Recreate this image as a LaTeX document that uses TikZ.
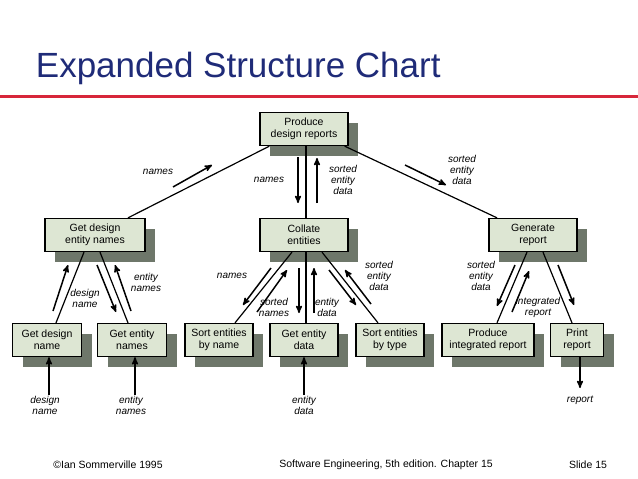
\documentclass[tikz,border=0pt]{standalone}
\usepackage{fontspec}
\setmainfont{Liberation Sans}
\usetikzlibrary{arrows,shadows,positioning}
\definecolor{boxfill}{HTML}{DDE6D3}
\definecolor{shade}{HTML}{6E776A}
\definecolor{titleblue}{HTML}{1F2B78}
\definecolor{rule}{HTML}{D7263A}

\begin{document}
\begin{tikzpicture}[x=1pt, y=-1pt, >=stealth', line width=1.2pt,
    module/.style={draw, line width=1.3pt, fill=boxfill, minimum width=#1, minimum height=33pt, inner sep=1pt,
      align=center, font=\fontsize{10.5}{12}\selectfont,
      drop shadow={shadow xshift=10pt, shadow yshift=-10pt, fill=shade, opacity=1}},
    flow/.style={->, line width=1.5pt},
    lbl/.style={font=\fontsize{10}{11}\selectfont\itshape, align=center, inner sep=0pt}]

  \useasboundingbox (0,0) rectangle (638,479);

  % title
  \node[anchor=west, text=titleblue, font=\fontsize{35}{37}\selectfont] (title) at (32,68) {Expanded Structure Chart};
  \draw[rule, line width=3pt] (0,96) -- (638,96);

  % modules
  \node[module=88pt]  (prod)    at (304,129) {Produce\\design reports};
  \node[module=100pt] (getdes)  at (95,235)  {Get design\\entity names};
  \node[module=88pt]  (collate) at (304,235) {Collate\\entities};
  \node[module=88pt]  (gen)     at (533,235) {Generate\\report};
  \node[module=69pt]  (gdname)  at (47,340)  {Get design\\name};
  \node[module=69pt]  (gename)  at (132,340) {Get entity\\names};
  \node[module=68pt]  (sname)   at (219,340) {Sort entities\\by name};
  \node[module=68pt]  (gedata)  at (304,340) {Get entity\\data};
  \node[module=68pt]  (stype)   at (390,340) {Sort entities\\by type};
  \node[module=92pt]  (pint)    at (488,340) {Produce\\integrated report};
  \node[module=53pt]  (print)   at (577,340) {Print\\report};

  % calls
  \draw ([xshift=10pt]prod.south west) -- ([xshift=33pt]getdes.north);
  \draw ([xshift=2pt]prod.south) -- ([xshift=2pt]collate.north);
  \draw ([xshift=-4pt]prod.south east) -- ([xshift=-36pt]gen.north);
  \draw ([xshift=-11pt]getdes.south) -- ([xshift=9pt]gdname.north);
  \draw ([xshift=5pt]getdes.south) -- ([xshift=-4pt]gename.north);
  \draw ([xshift=-12pt]collate.south) -- ([xshift=16pt]sname.north);
  \draw ([xshift=2pt]collate.south) -- ([xshift=2pt]gedata.north);
  \draw ([xshift=18pt]collate.south) -- ([xshift=-12pt]stype.north);
  \draw ([xshift=-6pt]gen.south) -- ([xshift=9pt]pint.north);
  \draw ([xshift=10pt]gen.south) -- ([xshift=-5pt]print.north);

  % data couples
  \coordinate (a1) at (173,187); \coordinate (a2) at (212,165);
  \coordinate (b1) at (298,157); \coordinate (b2) at (298,203);
  \coordinate (c1) at (317,203); \coordinate (c2) at (317,158);
  \coordinate (d1) at (405,165); \coordinate (d2) at (446,185);
  \coordinate (e1) at (53,311);  \coordinate (e2) at (68,265);
  \coordinate (f1) at (97,265);  \coordinate (f2) at (116,312);
  \coordinate (g1) at (131,311); \coordinate (g2) at (115,265);
  \coordinate (h1) at (271,268); \coordinate (h2) at (243,305);
  \coordinate (i1) at (257,312); \coordinate (i2) at (287,270);
  \coordinate (j1) at (299,268); \coordinate (j2) at (299,313);
  \coordinate (k1) at (314,313); \coordinate (k2) at (314,268);
  \coordinate (l1) at (329,270); \coordinate (l2) at (356,305);
  \coordinate (m1) at (371,304); \coordinate (m2) at (345,270);
  \coordinate (n1) at (515,265); \coordinate (n2) at (497,306);
  \coordinate (o1) at (512,312); \coordinate (o2) at (529,271);
  \coordinate (p1) at (558,265); \coordinate (p2) at (574,305);
  \foreach \s/\t in {a1/a2,b1/b2,c1/c2,d1/d2,e1/e2,f1/f2,g1/g2,h1/h2,i1/i2,j1/j2,k1/k2,l1/l2,m1/m2,n1/n2,o1/o2,p1/p2}
    \draw[flow] (\s) -- (\t);

  % inputs and output
  \coordinate (q1) at (49,395);  \coordinate (r1) at (135,395);
  \coordinate (s1) at (304,395); \coordinate (t1) at (580,388);
  \draw[flow] (q1) -- (q1 |- gdname.south);
  \draw[flow] (r1) -- (r1 |- gename.south);
  \draw[flow] (s1) -- (s1 |- gedata.south);
  \draw[flow] (t1 |- print.south) -- (t1);

  % labels
  \node[lbl] (la) at (158,172) {names};
  \node[lbl] (lb) at (269,180) {names};
  \node[lbl] (lc) at (343,180) {sorted\\entity\\data};
  \node[lbl] (ld) at (462,170) {sorted\\entity\\data};
  \node[lbl] (le) at (85,298)  {design\\name};
  \node[lbl] (lf) at (146,282) {entity\\names};
  \node[lbl] (lg) at (232,276) {names};
  \node[lbl] (lh) at (274,307) {sorted\\names};
  \node[lbl] (li) at (327,307) {entity\\data};
  \node[lbl] (lj) at (379,276) {sorted\\entity\\data};
  \node[lbl] (lk) at (481,276) {sorted\\entity\\data};
  \node[lbl] (ll) at (538,307) {integrated\\report};
  \node[lbl] (lm) at (45,405)  {design\\name};
  \node[lbl] (ln) at (131,405) {entity\\names};
  \node[lbl] (lo) at (304,405) {entity\\data};
  \node[lbl] (lp) at (580,400) {report};

  % footer
  \node[font=\fontsize{10.5}{12}\selectfont] (ft1) at (108,465) {\textcopyright Ian Sommerville 1995};
  \node[font=\fontsize{10.5}{12}\selectfont] (ft2) at (386,465) {Software Engineering, 5th edition. Chapter 15};
  \node[font=\fontsize{10.5}{12}\selectfont] (ft3) at (588,465) {Slide 15};
\end{tikzpicture}
\end{document}
